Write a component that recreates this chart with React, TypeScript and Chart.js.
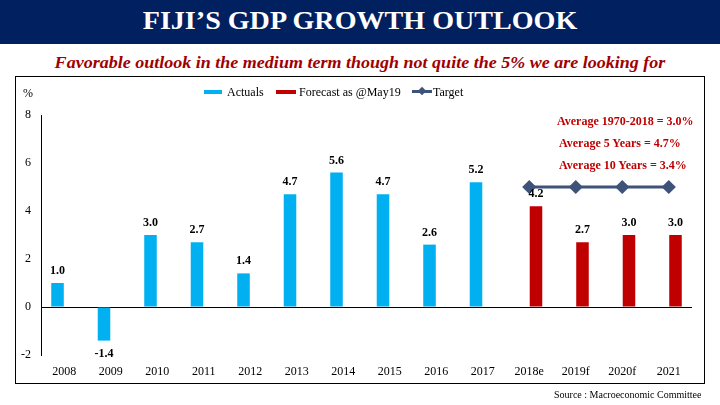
import { useEffect, useRef } from "react";
import { Chart, registerables } from "chart.js";

Chart.register(...registerables);

// Fiscal years on the category axis
const years = [
  "2008", "2009", "2010", "2011", "2012", "2013", "2014",
  "2015", "2016", "2017", "2018e", "2019f", "2020f", "2021",
];

// Real GDP growth, percent
const actuals = [1.0, -1.4, 3.0, 2.7, 1.4, 4.7, 5.6, 4.7, 2.6, 5.2, null, null, null, null];
const forecast = [null, null, null, null, null, null, null, null, null, null, 4.2, 2.7, 3.0, 3.0];
const target = [null, null, null, null, null, null, null, null, null, null, 5.0, 5.0, 5.0, 5.0];

const yMin = -2;
const yMax = 8;
const yStep = 2;

const averages = [
  "Average 1970-2018 = 3.0%",
  "Average 5 Years = 4.7%",
  "Average 10 Years = 3.4%",
];

const BLUE = "#00b0f0";
const RED = "#c00000";
const NAVY = "#002060";
const TARGET = "#3e5379";
const SERIF = '"Liberation Serif", "Times New Roman", serif';

// Bold value labels above (or below, for negatives) each bar
const valueLabels = {
  id: "valueLabels",
  afterDatasetsDraw(chart: any) {
    const ctx = chart.ctx;
    ctx.save();
    ctx.font = `bold 12px ${SERIF}`;
    ctx.fillStyle = "#000";
    ctx.textAlign = "center";
    ctx.textBaseline = "middle";
    chart.data.datasets.forEach((ds: any, i: number) => {
      if (ds.type !== "bar") return;
      const meta = chart.getDatasetMeta(i);
      meta.data.forEach((el: any, j: number) => {
        const v = ds.data[j];
        if (v === null || v === undefined) return;
        const y = v >= 0 ? el.y - 12 : el.y + 13;
        ctx.fillText(v.toFixed(1), el.x, y);
      });
    });
    ctx.restore();
  },
};

export default function App() {
  const canvasRef = useRef<HTMLCanvasElement | null>(null);

  useEffect(() => {
    document.body.style.margin = "0";
    const canvas = canvasRef.current;
    if (!canvas) return;
    const chart = new Chart(canvas, {
      type: "bar",
      data: {
        labels: years,
        datasets: [
          {
            type: "line",
            label: "Target",
            data: target,
            borderColor: TARGET,
            backgroundColor: TARGET,
            borderWidth: 3,
            pointStyle: "rectRot",
            pointRadius: 5,
            pointBackgroundColor: TARGET,
            pointBorderColor: TARGET,
            spanGaps: false,
            order: 0,
          } as any,
          {
            type: "bar",
            label: "Actuals",
            data: actuals,
            backgroundColor: BLUE,
            categoryPercentage: 0.58,
            barPercentage: 0.93,
            order: 1,
          } as any,
          {
            type: "bar",
            label: "Forecast as @May19",
            data: forecast,
            backgroundColor: RED,
            categoryPercentage: 0.58,
            barPercentage: 0.93,
            order: 1,
          } as any,
        ],
      },
      options: {
        responsive: false,
        animation: false,
        maintainAspectRatio: false,
        layout: { padding: { left: 11, right: 28, top: 115, bottom: 20 } },
        plugins: {
          legend: { display: false },
          title: { display: false },
          tooltip: { enabled: false },
        },
        scales: {
          x: {
            grid: { display: false },
            border: { display: false },
            ticks: {
              color: "#000",
              font: { family: SERIF, size: 12 },
              padding: 2,
              maxRotation: 0,
              autoSkip: false,
            },
            afterFit: (s: any) => {
              s.height = 30;
            },
          },
          y: {
            min: yMin,
            max: yMax,
            grid: {
              drawTicks: false,
              color: (c: any) => (c.tick && c.tick.value === 0 ? "#000" : "rgba(0,0,0,0)"),
              lineWidth: 1,
            },
            border: { display: true, color: "#000", width: 1 },
            ticks: {
              stepSize: yStep,
              color: "#000",
              font: { family: SERIF, size: 12 },
              padding: 10,
            },
            afterFit: (s: any) => {
              s.width = 30;
            },
          },
        },
      },
      plugins: [valueLabels],
    });
    return () => chart.destroy();
  }, []);

  const text = { fontFamily: SERIF, position: "absolute" as const, whiteSpace: "nowrap" as const };

  return (
    <div style={{ position: "absolute", left: 0, top: 0, width: 720, height: 405, background: "#fff", overflow: "hidden" }}>
      <div style={{ position: "absolute", left: 0, top: 0, width: 720, height: 44, background: NAVY }} />
      <div
        style={{
          ...text,
          left: 0,
          top: 5,
          width: 720,
          textAlign: "center",
          color: "#fff",
          fontSize: 26,
          fontWeight: "bold",
          lineHeight: "32px",
          transform: "scaleX(1.08)",
        }}
      >
        FIJI’S GDP GROWTH OUTLOOK
      </div>
      <div
        style={{
          ...text,
          left: 0,
          top: 52,
          width: 720,
          textAlign: "center",
          color: "#a00000",
          fontSize: 17,
          fontWeight: "bold",
          fontStyle: "italic",
          lineHeight: "22px",
          transform: "scaleX(1.06)",
        }}
      >
        Favorable outlook in the medium term though not quite the 5% we are looking for
      </div>
      <div style={{ position: "absolute", left: 15, top: 76, width: 688, height: 306, border: "1px solid #000" }} />
      <canvas ref={canvasRef} width={720} height={405} style={{ position: "absolute", left: 0, top: 0 }} />
      <div style={{ ...text, left: 23, top: 85, fontSize: 12, lineHeight: "16px" }}>%</div>
      {/* legend */}
      <div style={{ position: "absolute", left: 204, top: 90, width: 18, height: 4, background: BLUE }} />
      <div style={{ ...text, left: 227, top: 84, fontSize: 12, lineHeight: "16px" }}>Actuals</div>
      <div style={{ position: "absolute", left: 276, top: 90, width: 20, height: 4, background: RED }} />
      <div style={{ ...text, left: 299, top: 84, fontSize: 12, lineHeight: "16px" }}>Forecast as @May19</div>
      <div style={{ position: "absolute", left: 412, top: 90, width: 20, height: 3, background: TARGET }} />
      <div
        style={{
          position: "absolute",
          left: 418.5,
          top: 88,
          width: 6,
          height: 6,
          background: TARGET,
          transform: "rotate(45deg)",
        }}
      />
      <div style={{ ...text, left: 433, top: 84, fontSize: 12, lineHeight: "16px" }}>Target</div>
      {averages.map((a, i) => (
        <div
          key={a}
          style={{
            ...text,
            left: i === 0 ? 557 : 559,
            top: 113 + i * 22,
            fontSize: 12,
            fontWeight: "bold",
            color: RED,
            lineHeight: "16px",
          }}
        >
          {a}
        </div>
      ))}
      <div style={{ ...text, left: 554, top: 388, fontSize: 10, lineHeight: "14px" }}>
        Source : Macroeconomic Committee
      </div>
    </div>
  );
}
